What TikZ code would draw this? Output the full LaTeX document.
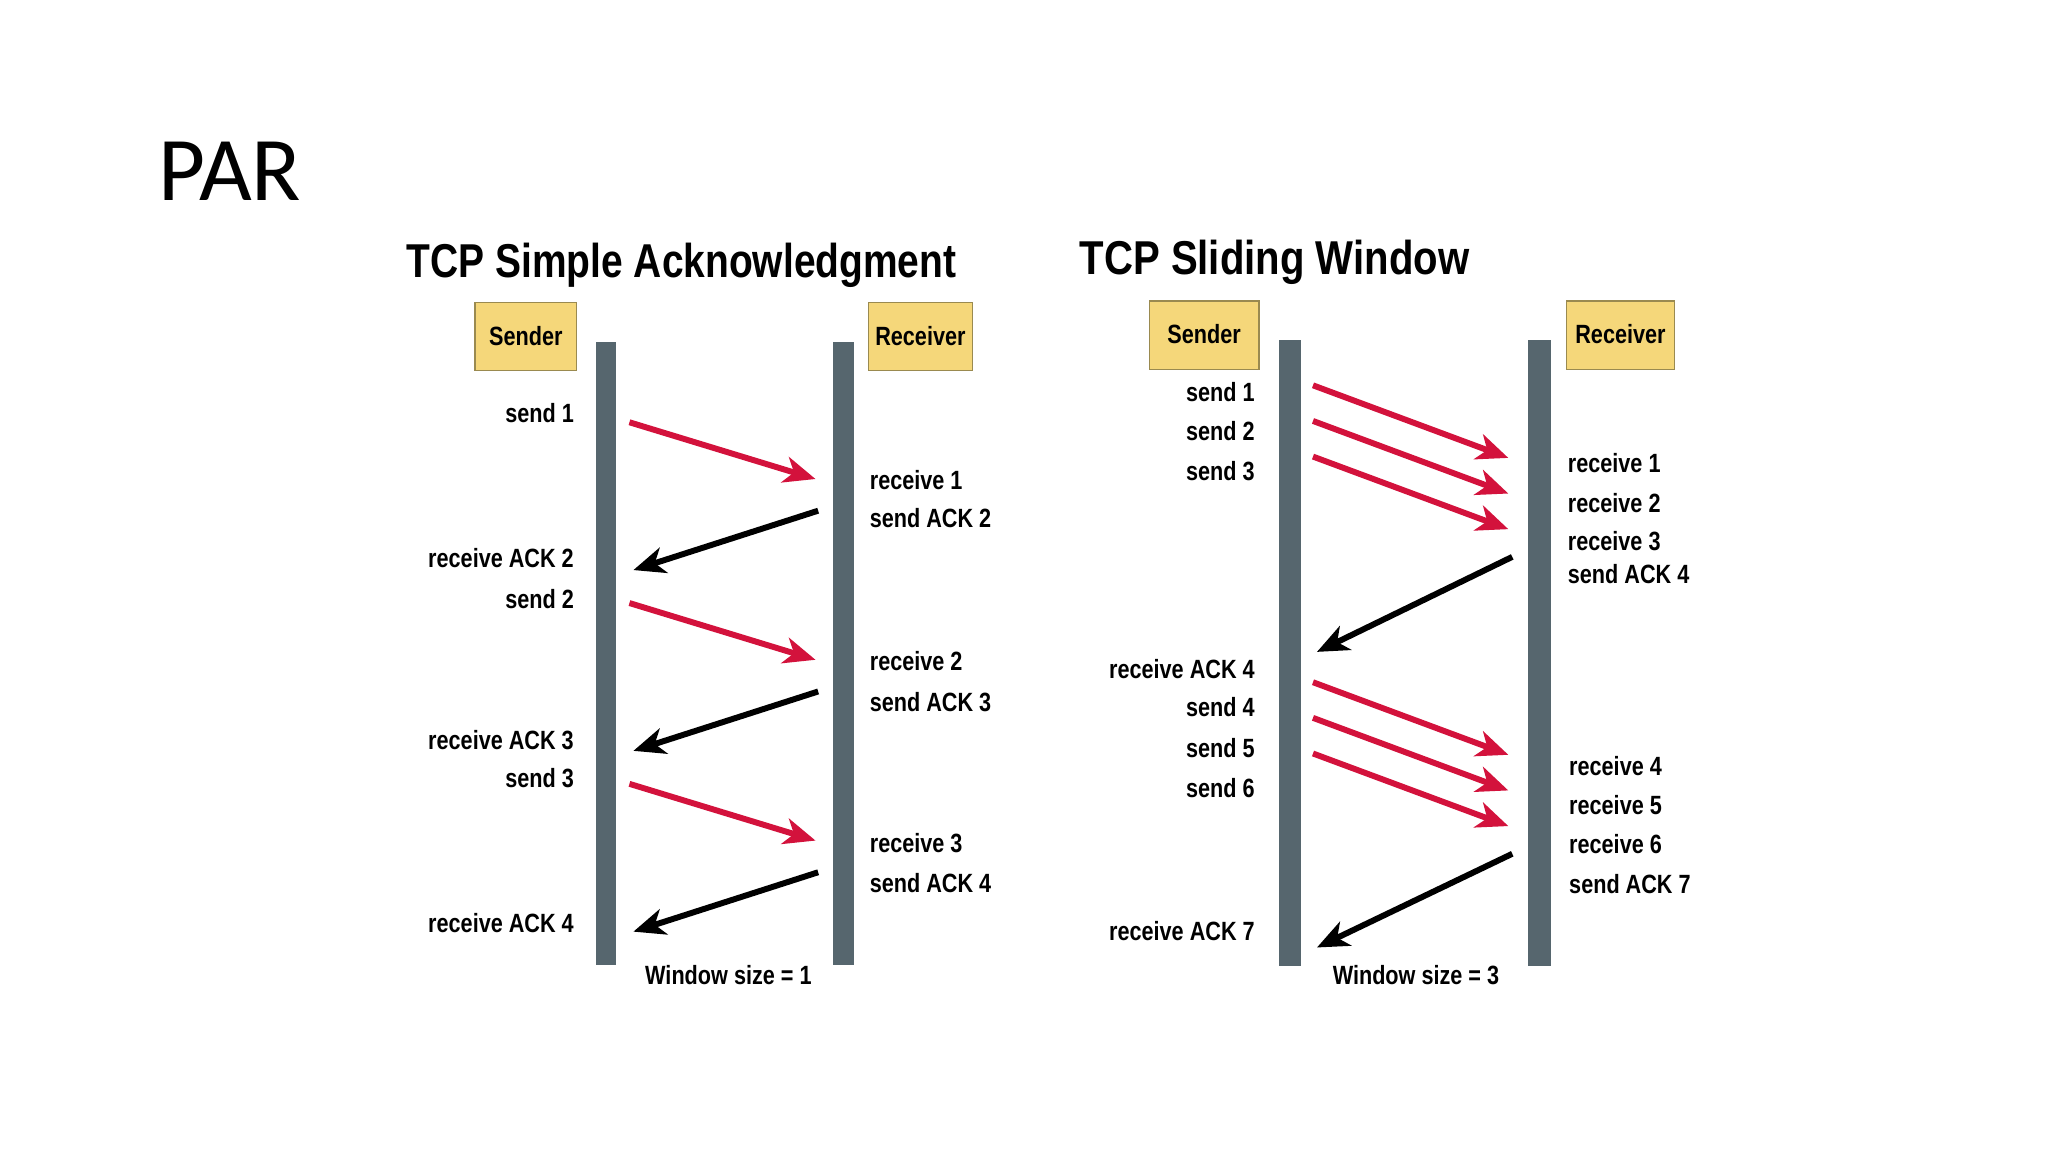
\documentclass[tikz,border=0pt]{standalone}
\usepackage{fontspec}
\setmainfont{Liberation Sans}
\newfontfamily\parfont{Carlito}
\usetikzlibrary{arrows.meta}
\definecolor{barc}{HTML}{56666E}
\definecolor{boxc}{HTML}{F5D77A}
\definecolor{boxd}{HTML}{9A8A50}
\definecolor{redc}{HTML}{D3123C}
\tikzset{
  lbl/.style={font=\bfseries\fontsize{20}{22}\selectfont, xscale=0.82, inner sep=0pt},
  lr/.style={lbl, anchor=base east},
  ll/.style={lbl, anchor=base west},
  ttl/.style={font=\bfseries\fontsize{36}{40}\selectfont, xscale=0.82, inner sep=0pt, anchor=base west},
  hbox/.style={draw=boxd, line width=1pt, fill=boxc},
  bar/.style={fill=barc, draw=none},
  msg/.style={line width=4.5pt, -{Stealth[length=24pt,width=20pt,inset=7pt]}},
  dat/.style={msg, draw=redc, color=redc},
  ack/.style={msg, draw=black},
}
\begin{document}
\begin{tikzpicture}[x=1pt,y=-1pt]
\useasboundingbox (0,0) rectangle (1552,873);
\fill[white] (0,0) rectangle (1552,873);
\node[anchor=base west, inner sep=0pt, font=\parfont\fontsize{69}{76}\selectfont] (par) at (120,152) {PAR};
% ---------- left diagram
\node[ttl] (t1) at (308,210) {TCP Simple Acknowledgment};
\draw[hbox] (360,229) rectangle (437,281);
\node[lbl] (s1box) at (398.5,255) {Sender};
\draw[hbox] (658,229) rectangle (737,281);
\node[lbl] (r1box) at (697.5,255) {Receiver};
\fill[bar] (452,259) rectangle (467,731);
\fill[bar] (631,259) rectangle (647,731);
\node[lr] (a1) at (435,320) {send 1};
\node[lr] (a2) at (435,430) {receive ACK 2};
\node[lr] (a3) at (435,461) {send 2};
\node[lr] (a4) at (435,568) {receive ACK 3};
\node[lr] (a5) at (435,597) {send 3};
\node[lr] (a6) at (435,707) {receive ACK 4};
\node[ll] (b1) at (659,371) {receive 1};
\node[ll] (b2) at (659,400) {send ACK 2};
\node[ll] (b3) at (659,508) {receive 2};
\node[ll] (b4) at (659,539) {send ACK 3};
\node[ll] (b5) at (659,646) {receive 3};
\node[ll] (b6) at (659,676) {send ACK 4};
\node[lbl, anchor=base] (w1) at (552,746) {Window size = 1};
\foreach \y [count=\i] in {0,137,274}{
  \coordinate (p\i) at (477,320+\y); \coordinate (q\i) at (618,363+\y);
  \coordinate (u\i) at (620,387+\y); \coordinate (v\i) at (480,432+\y);
  \draw[dat] (p\i) -- (q\i);
  \draw[ack] (u\i) -- (v\i);
}
% ---------- right diagram
\node[ttl, xscale=1.03] (t2) at (818,208) {TCP Sliding Window};
\draw[hbox] (871,228) rectangle (954,280);
\node[lbl] (s2box) at (912.5,253) {Sender};
\draw[hbox] (1187,228) rectangle (1269,280);
\node[lbl] (r2box) at (1228,253) {Receiver};
\fill[bar] (969,258) rectangle (986,732);
\fill[bar] (1158,258) rectangle (1175,732);
\node[lr] (c1) at (951,304) {send 1};
\node[lr] (c2) at (951,334) {send 2};
\node[lr] (c3) at (951,364) {send 3};
\node[lr] (c4) at (951,514) {receive ACK 4};
\node[lr] (c5) at (951,543) {send 4};
\node[lr] (c6) at (951,574) {send 5};
\node[lr] (c7) at (951,604) {send 6};
\node[lr] (c8) at (951,713) {receive ACK 7};
\node[ll] (d1) at (1188,358) {receive 1};
\node[ll] (d2) at (1188,388) {receive 2};
\node[ll] (d3) at (1188,417) {receive 3};
\node[ll] (d4) at (1188,442) {send ACK 4};
\node[ll] (d5) at (1189,588) {receive 4};
\node[ll] (d6) at (1189,617) {receive 5};
\node[ll] (d7) at (1189,647) {receive 6};
\node[ll] (d8) at (1189,677) {send ACK 7};
\node[lbl, anchor=base] (w2) at (1073,746) {Window size = 3};
\foreach \y [count=\i] in {0,27,54,225,252,279}{
  \coordinate (m\i) at (995,292+\y); \coordinate (n\i) at (1143,347+\y);
  \draw[dat] (m\i) -- (n\i);
}
\coordinate (k1) at (1146,422); \coordinate (l1) at (998,494);
\coordinate (k2) at (1146,647); \coordinate (l2) at (998,718);
\draw[ack] (k1) -- (l1);
\draw[ack] (k2) -- (l2);
\end{tikzpicture}
\end{document}
